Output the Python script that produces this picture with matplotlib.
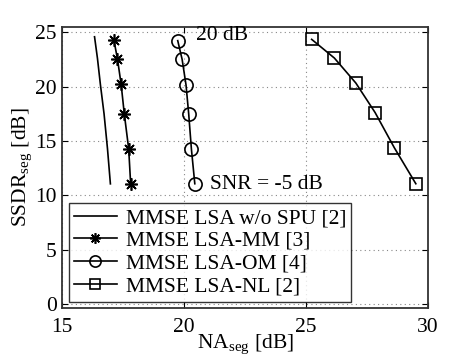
import matplotlib
matplotlib.use("Agg")
import matplotlib.pyplot as plt

plt.rcParams['font.family'] = ['Liberation Serif', 'DejaVu Serif']
plt.rcParams['mathtext.fontset'] = 'custom'
plt.rcParams['mathtext.rm'] = 'Liberation Serif'
plt.rcParams['mathtext.it'] = 'Liberation Serif:italic'

na_wo_spu = [16.33, 16.45, 16.57, 16.72, 16.86, 16.98]
ssdr_wo_spu = [24.6, 22.6, 20.2, 17.5, 14.3, 11.05]

na_mm = [17.12, 17.27, 17.42, 17.55, 17.73, 17.81]
ssdr_mm = [24.33, 22.55, 20.22, 17.49, 14.27, 11.06]

na_om = [19.74, 19.92, 20.08, 20.19, 20.30, 20.44]
ssdr_om = [24.24, 22.52, 20.16, 17.49, 14.27, 11.06]

na_nl = [25.23, 26.16, 27.04, 27.83, 28.62, 29.50]
ssdr_nl = [24.36, 22.64, 20.34, 17.62, 14.37, 11.06]

labels = ['MMSE LSA w/o SPU [2]', 'MMSE LSA-MM [3]', 'MMSE LSA-OM [4]', 'MMSE LSA-NL [2]']

FS = 15.5

fig = plt.figure(figsize=(4.74, 3.55), dpi=100)
ax = fig.add_axes([0.131, 0.132, 0.772, 0.792])

ax.plot(na_wo_spu, ssdr_wo_spu, color='black', lw=1.2, label=labels[0])
ax.plot(na_mm, ssdr_mm, color='black', lw=1.2, marker=(8, 2, 0), ms=9, mew=1.2, label=labels[1])
ax.plot(na_om, ssdr_om, color='black', lw=1.2, marker='o', ms=9.5, mfc='none', mew=1.2, label=labels[2])
ax.plot(na_nl, ssdr_nl, color='black', lw=1.2, marker='s', ms=8, mfc='none', mew=1.2, label=labels[3])

ax.text(20.5, 24.75, '20 dB', fontsize=FS, va='center', ha='left')
ax.text(21.05, 11.0, 'SNR = -5 dB', fontsize=FS, va='center', ha='left')

ax.set_xlim(15, 30)
ax.set_ylim(-0.4, 25.5)
ax.set_xticks([15, 20, 25, 30])
ax.set_yticks([0, 5, 10, 15, 20, 25])
ax.tick_params(direction='in', top=True, right=True, labelsize=FS, length=4)
ax.tick_params(axis='x', pad=7)
ax.tick_params(axis='y', pad=4)
ax.grid(True, linestyle=(0, (1, 3)), color='#888888', lw=0.8)
for s in ax.spines.values():
    s.set_linewidth(1.3)
    s.set_color('#333333')

ax.set_xlabel(r'NA$_{\mathrm{seg}}$ [dB]', fontsize=FS, labelpad=-3)
ax.set_ylabel(r'SSDR$_{\mathrm{seg}}$ [dB]', fontsize=FS, labelpad=1)

leg = ax.legend(loc='lower left', fontsize=FS, frameon=True, fancybox=False,
                edgecolor='black', borderaxespad=0.3, handlelength=2.0,
                labelspacing=0.12, borderpad=0.25, handletextpad=0.4, markerscale=0.85)
leg.get_frame().set_linewidth(1.0)

fig.savefig('out.png', dpi=100)
